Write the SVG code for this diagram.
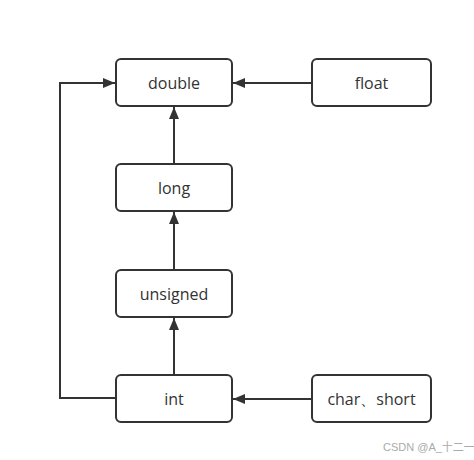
<svg xmlns="http://www.w3.org/2000/svg" width="474" height="460" viewBox="0 0 474 460">
<style>
.n rect{fill:#fff;stroke:#333;stroke-width:2}
.n text{font-family:"Open Sans","DejaVu Sans",sans-serif;font-size:16px;fill:#333;text-anchor:middle;dominant-baseline:central}
.c path{fill:none;stroke:#333;stroke-width:2}
.wm{font-family:"Liberation Sans","Noto Sans CJK SC",sans-serif;font-size:11px;fill:#aaa}
</style>
<defs>
<marker id="a" viewBox="0 0 12 10" refX="12" refY="5" markerWidth="12" markerHeight="10" markerUnits="userSpaceOnUse" orient="auto">
<path d="M0,0 L12,5 L0,10 z" fill="#333"/>
</marker>
</defs>
<rect width="474" height="460" fill="#fff"/>
<g class="c">
<path d="M312,83 H233" marker-end="url(#a)"/>
<path d="M174,164 V107" marker-end="url(#a)"/>
<path d="M174,270 V212" marker-end="url(#a)"/>
<path d="M174,375 V318" marker-end="url(#a)"/>
<path d="M312,399 H233" marker-end="url(#a)"/>
<path d="M116,398 H60 V83 H115" marker-end="url(#a)"/>
</g>
<g id="double" class="n"><rect x="116" y="59" width="116" height="47" rx="5"/><text x="174" y="82.5">double</text></g>
<g id="float" class="n"><rect x="312" y="59" width="119" height="47" rx="5"/><text x="371.5" y="82.5">float</text></g>
<g id="long" class="n"><rect x="116" y="164" width="116" height="47" rx="5"/><text x="174" y="187.5">long</text></g>
<g id="unsigned" class="n"><rect x="116" y="270" width="116" height="47" rx="5"/><text x="174" y="293.5">unsigned</text></g>
<g id="int" class="n"><rect x="116" y="375" width="116" height="47" rx="5"/><text x="174" y="398.5">int</text></g>
<g id="charshort" class="n"><rect x="312" y="375" width="119" height="47" rx="5"/><text x="371.5" y="398.5">char、short</text></g>
<text class="wm" x="383" y="451">CSDN @A_十二一</text>
</svg>
